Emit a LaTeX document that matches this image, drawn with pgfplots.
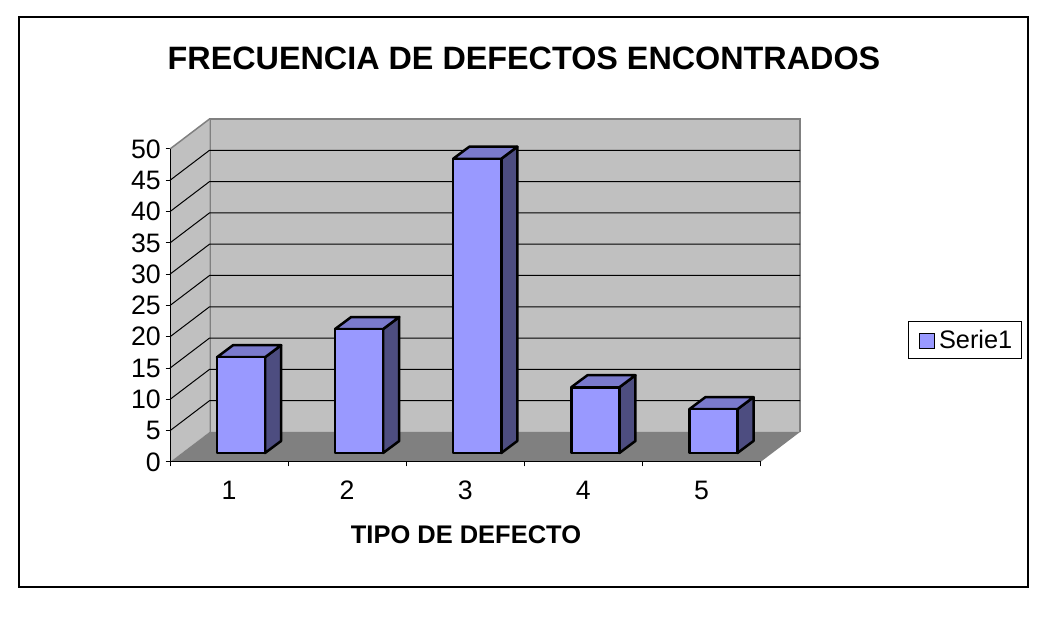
\documentclass[border=0pt]{standalone}
\usepackage{fontspec}
\setmainfont{Liberation Sans}
\usepackage{pgfplots}
\pgfplotsset{compat=1.18}

\definecolor{wall}{HTML}{C0C0C0}
\definecolor{floorgray}{HTML}{808080}
\definecolor{barfront}{HTML}{9999FF}
\definecolor{bartop}{HTML}{7A7ACC}
\definecolor{barside}{HTML}{4D4D80}

% one px of the reference
\newdimen\px \px=0.75pt

% 3D column: left edge on the x axis, height in data units
\newcommand{\column}[2]{%
  \pgfmathsetmacro{\xa}{#1+0.398}
  \pgfmathsetmacro{\xb}{#1+0.805}
  \pgfmathsetmacro{\xc}{#1+0.941}
  \pgfmathsetmacro{\xd}{#1+0.534}
  \pgfmathsetmacro{\ya}{1.44}
  \pgfmathsetmacro{\yb}{1.44+#2}
  \pgfmathsetmacro{\yc}{\yb+1.92}
  \pgfmathsetmacro{\ye}{\ya+1.92}
  \addplot[forget plot,draw=black,line width=2.5\px,fill=barside,line join=round] coordinates {(\xb,\ya) (\xc,\ye) (\xc,\yc) (\xb,\yb)} --cycle;
  \addplot[forget plot,draw=black,line width=2.5\px,fill=bartop,line join=round] coordinates {(\xa,\yb) (\xb,\yb) (\xc,\yc) (\xd,\yc)} --cycle;
  \addplot[forget plot,draw=black,line width=2.5\px,fill=barfront,line join=round] coordinates {(\xa,\ya) (\xb,\ya) (\xb,\yb) (\xa,\yb)} --cycle;
}

\begin{document}
\begin{tikzpicture}[x=0.75pt,y=0.75pt]
  \path[use as bounding box] (0,0) rectangle (1046,639);
  \fill[white] (0,0) rectangle (1046,639);
  \draw[black,line width=2\px] (18.5,639-17.5) rectangle (1028,639-587);

  \begin{axis}[
    at={(127.5pt,132.75pt)},
    anchor=south west,
    scale only axis,
    width=630\px,
    height=343\px,
    xmin=0, xmax=5.3345,
    ymin=0, ymax=54.792,
    clip=false,
    axis line style={draw=none},
    tick align=outside,
    xtick pos=lower,
    ytick pos=left,
    major tick length=4.5\px,
    ytick={0,5,...,50},
    xtick={0.5,1.5,2.5,3.5,4.5},
    xticklabels={1,2,3,4,5},
    xtick style={draw=none},
    extra x ticks={0,1,2,3,4,5},
    extra x tick labels={},
    extra x tick style={xtick style={draw=black,line width=1\px}},
    ytick style={draw=black,line width=1\px},
    /pgf/number format/assume math mode=true,
    tick label style={font=\fontsize{20pt}{22pt}\selectfont},
    xticklabel style={yshift=-10\px},
    title={\fontsize{24.25pt}{26pt}\selectfont\bfseries FRECUENCIA DE DEFECTOS ENCONTRADOS},
    title style={at={(axis description cs:0.5619,1.1547)},anchor=center},
    xlabel={\fontsize{19.1pt}{21pt}\selectfont\bfseries TIPO DE DEFECTO},
    xlabel style={at={(axis description cs:0.4698,-0.2128)},anchor=center},
    legend style={
      at={(axis description cs:1.1714,0.4111)},anchor=north west,
      draw=black,line width=0.75\px,
      font=\fontsize{19pt}{21pt}\selectfont,
      inner xsep=6\px,inner ysep=6.5\px,
    },
  ]

  % back wall, side wall, floor
  \addplot[forget plot,draw=floorgray,line width=2\px,fill=wall] coordinates {(0.3345,4.792) (0.3345,54.792) (5.3345,54.792) (5.3345,4.792)};
  \addplot[forget plot,draw=none,fill=wall] coordinates {(0,0) (0,50) (0.3345,54.792) (0.3345,4.792)} --cycle;
  \addplot[forget plot,draw=floorgray,line width=1.5\px] coordinates {(0,50) (0.3345,54.792)};
  \addplot[forget plot,draw=none,fill=floorgray] coordinates {(0,0) (5,0) (5.3345,4.792) (0.3345,4.792)} --cycle;

  % gridlines
  \addplot[black,line width=1\px,forget plot] coordinates {(0,5) (0.3345,9.792) (5.3345,9.792)};
  \addplot[black,line width=1\px,forget plot] coordinates {(0,10) (0.3345,14.792) (5.3345,14.792)};
  \addplot[black,line width=1\px,forget plot] coordinates {(0,15) (0.3345,19.792) (5.3345,19.792)};
  \addplot[black,line width=1\px,forget plot] coordinates {(0,20) (0.3345,24.792) (5.3345,24.792)};
  \addplot[black,line width=1\px,forget plot] coordinates {(0,25) (0.3345,29.792) (5.3345,29.792)};
  \addplot[black,line width=1\px,forget plot] coordinates {(0,30) (0.3345,34.792) (5.3345,34.792)};
  \addplot[black,line width=1\px,forget plot] coordinates {(0,35) (0.3345,39.792) (5.3345,39.792)};
  \addplot[black,line width=1\px,forget plot] coordinates {(0,40) (0.3345,44.792) (5.3345,44.792)};
  \addplot[black,line width=1\px,forget plot] coordinates {(0,45) (0.3345,49.792) (5.3345,49.792)};

  % axis lines
  \addplot[black,line width=1\px,forget plot] coordinates {(0,50) (0,0) (5,0)};

  \column{0}{15.3}
  \column{1}{19.8}
  \column{2}{47}
  \column{3}{10.5}
  \column{4}{7}

  \addlegendimage{legend image code/.code={
    \draw[black,line width=1.5\px,fill=barfront] (5\px,-9\px) rectangle (20\px,6\px);
    \path[draw=none,fill=none] (0,0) rectangle (22\px,1\px);}}
  \addlegendentry{\raisebox{-2\px}{Serie1}}

  \end{axis}
\end{tikzpicture}
\end{document}
